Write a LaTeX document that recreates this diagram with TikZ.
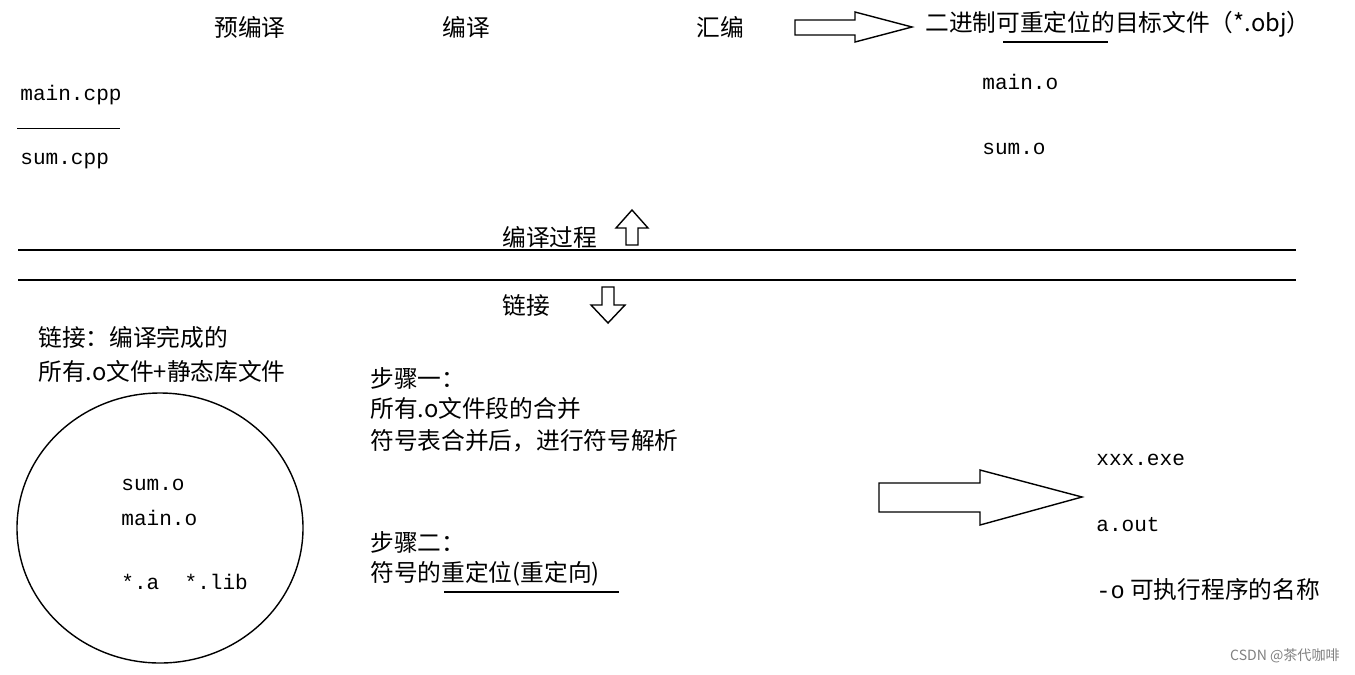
\documentclass[tikz,border=0pt]{standalone}
\usepackage{fontspec}
\setmainfont{Noto Sans CJK SC}
\setmonofont{Liberation Mono}
\usetikzlibrary{positioning}

\begin{document}
\begin{tikzpicture}[x=0.02cm, y=-0.02cm,
        every node/.style={font=\fontsize{13.5}{15}\selectfont, inner sep=0pt},
        txt/.style={anchor=west},
        code/.style={anchor=west, font=\fontsize{12}{14}\selectfont\ttfamily},
        hollow/.style={draw, thick, fill=white, line join=miter},
        sepline/.style={line width=1.3pt}
    ]
    \useasboundingbox (0,0) rectangle (1355,674);

    % top row: stages
    \node (pre) at (250,27) {预编译};
    \node (comp) at (466,27) {编译};
    \node (asm) at (720,27) {汇编};
    \draw[hollow] (795,20) -- (855,20) -- (855,12) -- (912,27) -- (855,42) -- (855,35) -- (795,35) -- cycle;
    \node[txt] (obj) at (925,24) {二进制可重定位的目标文件（*.obj）};
    \draw[thick] (1003,42) -- (1108,42);

    % source files
    \node[code] (maincpp) at (20,95) {main.cpp};
    \draw (17,128) -- (120,128);
    \node[code] (sumcpp) at (20,161) {sum.cpp};

    % object files
    \node[code] (maino) at (982,82) {main.o};
    \node[code] (sumo) at (982,149) {sum.o};

    % compile / link separator
    \node[txt] (cproc) at (502,237) {编译过程};
    \draw[hollow] (626,245) -- (626,228) -- (616,228) -- (632,210) -- (648,228) -- (638,228) -- (638,245) -- cycle;
    \draw[sepline] (18,250) -- (1296,250);
    \draw[sepline] (18,280) -- (1296,280);
    \node[txt] (link) at (502,305) {链接};
    \draw[hollow] (602,287) -- (614,287) -- (614,305) -- (625,305) -- (608,323) -- (591,305) -- (602,305) -- cycle;

    % link inputs
    \node[txt] (l1) at (38,337) {链接：编译完成的};
    \node[txt] (l2) at (38,371) {所有.o文件+静态库文件};
    \draw[thick] (160,528) ellipse [x radius=143, y radius=135];
    \node[code] (in1) at (121,485) {sum.o};
    \node[code] (in2) at (121,518) {main.o};
    \node[code] (in3) at (121,582) {*.a\ \ *.lib};

    % steps
    \node[txt] (s1) at (370,378) {步骤一：};
    \node[txt] (s1a) at (370,408) {所有.o文件段的合并};
    \node[txt] (s1b) at (370,441) {符号表合并后，进行符号解析};
    \node[txt] (s2) at (370,542) {步骤二：};
    \node[txt] (s2a) at (370,574) {符号的重定位(重定向)};
    \draw[thick] (444,592) -- (619,592);

    % result
    \draw[hollow] (879,483) -- (980,483) -- (980,470) -- (1082,497) -- (980,525) -- (980,512) -- (879,512) -- cycle;
    \node[code] (exe) at (1096,460) {xxx.exe};
    \node[code] (aout) at (1096,525) {a.out};
    \node[txt] (oname) at (1096,589) {\texttt{-o} 可执行程序的名称};

    \node[anchor=east, font=\fontsize{8}{9}\selectfont, text=gray] (mark) at (1340,656) {CSDN @茶代咖啡};
\end{tikzpicture}
\end{document}
